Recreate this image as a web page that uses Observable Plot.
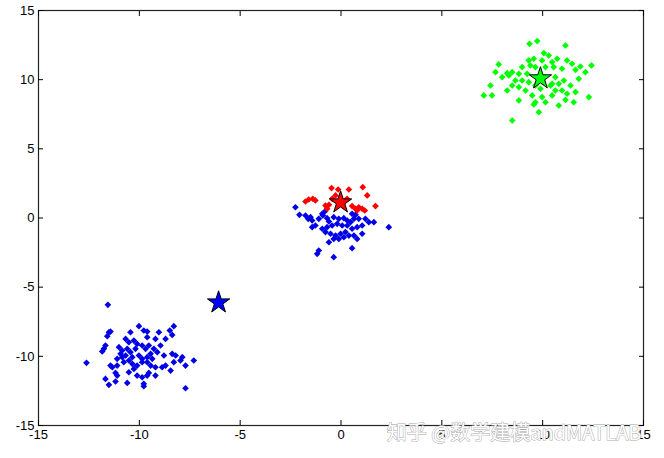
<!DOCTYPE html>
<html>
<head>
<meta charset="utf-8">
<script src="https://cdn.jsdelivr.net/npm/d3@7"></script>
<script src="https://cdn.jsdelivr.net/npm/@observablehq/plot@0.6"></script>
<style>
  html, body { margin: 0; padding: 0; background: #fff; }
</style>
</head>
<body>
<div id="chart"></div>
<script>
// Cluster 1 (blue, lower-left)
const blue1X = [-11.56,-12.62,-10.02,-10.44,-9.78,-9.61,-9.03,-8.49,-8.29,-8.37,-11.51,-11.59,-11.43,-9.61,-9.20,-8.70,-10.68,-10.52,-10.27,-10.11,-11.68,-11.76,-11.84,-11.01,-10.85,-10.60,-10.44,-10.19,-9.86,-9.69,-9.53,-9.28,-8.95,-9.11,-9.44,-9.61,-9.36,-9.86,-10.02,-10.35,-10.68,-10.85,-10.52,-10.77,-10.35,-10.11,-9.86,-9.61,-9.44,-9.20,-8.78,-8.37,-8.20,-7.87,-7.96,-8.29,-8.70,-8.45,-7.71,-7.30,-11.43,-11.34,-11.10,-11.18,-11.10,-11.68,-11.51,-11.18,-10.60,-10.11,-9.86,-9.61,-9.53,-9.78,-9.78,-7.71,-9.20,-8.87,-10.27,-10.52,-10.93,-11.10];
const blue1Y = [-6.28,-10.47,-7.82,-8.26,-8.13,-8.21,-8.26,-8.13,-7.82,-8.45,-8.26,-8.54,-8.21,-8.62,-8.74,-8.74,-8.74,-8.98,-8.86,-9.10,-9.22,-9.46,-9.65,-9.34,-9.58,-9.46,-9.70,-9.46,-9.22,-9.46,-9.22,-9.46,-9.22,-9.70,-9.82,-10.06,-10.18,-10.18,-9.94,-10.06,-9.94,-10.06,-10.30,-10.42,-10.54,-10.67,-10.42,-10.42,-10.67,-10.79,-9.94,-9.82,-9.94,-10.06,-10.30,-10.42,-10.67,-11.03,-10.67,-10.30,-10.67,-10.79,-10.67,-11.20,-11.39,-11.63,-12.06,-11.82,-11.92,-11.39,-11.51,-11.39,-11.20,-11.99,-12.16,-12.31,-11.39,-10.79,-10.91,-11.15,-9.82,-10.18];

// Cluster 2 lower half (blue, centre)
const blue2X = [-2.26,-2.06,-1.76,-1.63,-1.43,-1.51,-1.10,-0.93,-0.80,-0.90,-0.69,-0.60,-0.36,-0.11,0.14,0.31,0.47,0.64,0.55,0.72,0.88,1.21,1.38,1.63,2.37,1.05,0.80,0.55,0.31,0.06,-0.19,-0.44,-0.69,-0.93,-1.27,-1.43,-0.77,-0.52,-0.27,-0.02,0.22,0.39,0.64,0.14,-0.11,-0.36,-1.10,-1.18,-0.36,0.55,-0.60,0.80,1.05];
const blue2Y = [0.78,0.23,0.18,-0.06,-0.18,0.06,-0.06,0.30,0.47,0.18,-0.01,-0.25,0.06,-0.06,-0.01,-0.18,-0.30,-0.06,0.30,0.23,-0.06,-0.06,-0.30,-0.30,-0.66,-0.54,-0.66,-0.78,-0.54,-0.54,-0.42,-0.54,-0.66,-0.78,-0.54,-0.66,-1.02,-1.14,-1.27,-1.14,-1.02,-1.27,-1.27,-1.39,-1.51,-1.51,-2.35,-2.59,-2.83,-2.18,-1.75,-1.51,-1.14];

// Cluster 2 upper half (red)
const redX = [-0.47,-0.14,0.39,1.08,1.30,1.71,-1.76,-1.60,-1.40,-1.27,-0.60,-0.27,0.72,0.88,1.05,1.18,0.80,0.55,-0.69,-0.77,-0.44,0.30];
const redY = [2.16,2.06,2.06,2.23,1.63,0.86,1.19,1.34,1.39,1.27,0.95,1.63,0.66,0.78,0.66,0.54,0.54,0.86,0.66,0.90,1.39,1.39];

// Cluster 3 (green, upper-right)
const greenX = [9.35,9.73,11.13,10.06,10.30,9.31,9.56,9.97,10.47,10.72,11.21,11.46,11.87,12.42,7.82,7.66,7.99,8.24,8.49,8.32,8.82,8.98,9.39,9.64,10.14,10.55,10.96,11.63,12.12,11.79,11.05,10.63,10.80,10.39,9.89,9.64,9.31,8.98,8.65,8.49,8.82,7.41,7.08,7.49,8.24,8.82,9.48,9.64,9.97,10.47,10.63,10.96,11.21,11.63,12.29,11.54,11.13,10.80,10.14,9.56,9.81,8.49,11.38,10.47,9.15,9.23];
const greenY = [12.59,12.79,12.47,11.92,11.75,11.39,11.51,11.39,11.27,11.51,11.39,11.15,10.95,11.03,11.10,10.54,10.18,10.47,10.54,10.30,10.42,10.91,11.03,10.91,10.91,10.91,10.79,10.71,10.54,10.06,9.94,10.18,9.70,9.58,9.34,9.58,9.82,9.94,9.94,9.58,9.46,9.58,8.86,8.86,9.22,8.50,8.86,8.37,8.74,8.86,9.22,9.22,8.98,9.10,8.74,8.37,8.54,8.13,8.37,8.21,7.65,7.05,9.58,9.70,9.22,10.42];

// Centroids (stars)
const centroidX = [-6.07, -0.02, 9.89];
const centroidY = [-6.11, 1.12, 10.09];
const centroidColor = ["#0000ff", "#ff0000", "#00ff00"];

const xTicks = [-15, -10, -5, 0, 5, 10, 15];
const yTicks = [-15, -10, -5, 0, 5, 10, 15];
const watermark = "知乎 @数学建模andMATLAB";

const pts = (xs, ys) => xs.map((x, i) => ({x, y: ys[i]}));
const centroids = centroidX.map((x, i) => ({x, y: centroidY[i], c: centroidColor[i]}));

const dotOpts = {x: "x", y: "y", symbol: "diamond2", r: 3, stroke: "none"};
const noLabel = () => "";

const chart = Plot.plot({
  width: 664,
  height: 458,
  marginLeft: 38,
  marginRight: 21,
  marginTop: 10,
  marginBottom: 33,
  style: {fontFamily: "'Liberation Sans', Arial, sans-serif", fontSize: "13px", color: "#000", background: "#fff"},
  x: {domain: [-15, 15], label: null},
  y: {domain: [-15, 15], label: null},
  marks: [
    Plot.frame({stroke: "#222", strokeWidth: 1.2}),
    Plot.axisX(xTicks, {anchor: "bottom", tickSize: -5, tickPadding: 9, label: null, tickFormat: d => d}),
    Plot.axisX(xTicks, {anchor: "top", tickSize: -5, label: null, tickFormat: noLabel}),
    Plot.axisY(yTicks, {anchor: "left", tickSize: -5, tickPadding: 9, label: null, tickFormat: d => d}),
    Plot.axisY(yTicks, {anchor: "right", tickSize: -5, label: null, tickFormat: noLabel}),
    Plot.dot(pts(blue1X, blue1Y), {...dotOpts, fill: "#0000e6"}),
    Plot.dot(pts(blue2X, blue2Y), {...dotOpts, fill: "#0000e6"}),
    Plot.dot(pts(redX, redY), {...dotOpts, fill: "#ff0000"}),
    Plot.dot(pts(greenX, greenY), {...dotOpts, fill: "#00ff00"}),
    Plot.dot(centroids, {x: "x", y: "y", symbol: "star", r: 7, fill: "c", stroke: "#000", strokeWidth: 1}),
    Plot.text([watermark], {text: d => d, frameAnchor: "bottom-right", textAnchor: "end", lineAnchor: "middle", dx: -2, dy: 8, fontSize: 20, fill: "#fff", stroke: "#aaa", strokeWidth: 1, fontFamily: "'Noto Sans CJK SC', sans-serif"})
  ]
});
document.getElementById("chart").appendChild(chart);
</script>
</body>
</html>
